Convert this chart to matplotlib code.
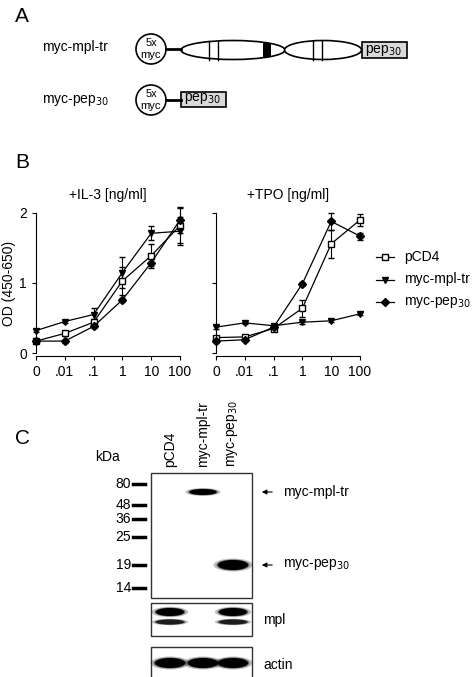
import matplotlib
matplotlib.use("Agg")
import matplotlib.pyplot as plt
from matplotlib.patches import Ellipse, Rectangle, Circle
import numpy as np

doses = ["0", ".01", ".1", "1", "10", "100"]
series = ["pCD4", "myc-mpl-tr", "myc-pep$_{30}$"]
il3_pcd4 = [0.17, 0.28, 0.44, 1.03, 1.39, 1.82]
il3_pcd4_err = [0.02, 0.03, 0.04, 0.2, 0.17, 0.25]
il3_mpl = [0.32, 0.45, 0.55, 1.15, 1.71, 1.74]
il3_mpl_err = [0.02, 0.02, 0.1, 0.22, 0.1, 0.2]
il3_pep = [0.17, 0.17, 0.38, 0.76, 1.29, 1.90]
il3_pep_err = [0.02, 0.02, 0.02, 0.03, 0.05, 0.18]
tpo_pcd4 = [0.22, 0.23, 0.35, 0.64, 1.56, 1.90]
tpo_pcd4_err = [0.03, 0.03, 0.02, 0.12, 0.2, 0.08]
tpo_mpl = [0.37, 0.43, 0.39, 0.44, 0.46, 0.56]
tpo_mpl_err = [0.02, 0.02, 0.02, 0.02, 0.02, 0.02]
tpo_pep = [0.17, 0.19, 0.37, 0.99, 1.88, 1.67]
tpo_pep_err = [0.02, 0.02, 0.02, 0.03, 0.12, 0.05]
markers_kda = ["80", "48", "36", "25", "19", "14"]
lanes = ["pCD4", "myc-mpl-tr", "myc-pep$_{30}$"]

W, H = 472, 677
fig = plt.figure(figsize=(W/100, H/100), dpi=100)
plt.rcParams['font.family'] = ['Liberation Sans', 'DejaVu Sans']
cv = fig.add_axes([0, 0, 1, 1])
cv.set_xlim(0, W); cv.set_ylim(H, 0); cv.axis('off')

fs = 10
cv.text(15, 16, "A", fontsize=15, va='center')
cv.text(15, 163, "B", fontsize=15, va='center')
cv.text(15, 438, "C", fontsize=15, va='center')

def myc(cx, cy):
    cv.add_patch(Circle((cx, cy), 15, fc='white', ec='black', lw=1.2))
    cv.text(cx, cy - 1, "5x", fontsize=8, ha='center', va='bottom', linespacing=0.8)
    cv.text(cx, cy + 1, "myc", fontsize=8, ha='center', va='top')

cv.text(42, 47, "myc-mpl-tr", fontsize=fs, va='center')
myc(151, 49)
cv.plot([166, 181], [49, 49], color='black', lw=2)
e1 = Ellipse((233, 50), 104, 19, fc='white', ec='black', lw=1.2)
cv.add_patch(e1)
for xx in (209, 218):
    cv.plot([xx, xx], [40.5, 59.5], color='black', lw=1)
r = Rectangle((263, 38), 8, 24, fc='black', ec='none')
cv.add_patch(r); r.set_clip_path(e1)
e2 = Ellipse((323, 50), 77, 19, fc='white', ec='black', lw=1.2)
cv.add_patch(e2)
for xx in (313, 322):
    cv.plot([xx, xx], [40.5, 59.5], color='black', lw=1)
cv.add_patch(Rectangle((362, 42), 45, 16, fc='#d9d9d9', ec='black', lw=1.2))
cv.text(365, 50, "pep$_{30}$", fontsize=fs, va='center')

cv.text(42, 100, "myc-pep$_{30}$", fontsize=fs, va='center')
myc(151, 100)
cv.plot([166, 181], [100, 100], color='black', lw=2)
cv.add_patch(Rectangle((181, 92), 45, 15, fc='#d9d9d9', ec='black', lw=1.2))
cv.text(184, 99, "pep$_{30}$", fontsize=fs, va='center')

x = np.arange(len(doses))
styles = [dict(marker='s', mfc='white', mec='black', ms=5),
          dict(marker='v', mfc='black', mec='black', ms=5),
          dict(marker='D', mfc='black', mec='black', ms=4.5)]

def panel(left, title, data, ylabel):
    ax = fig.add_axes([left/W, 1 - 353/H, 144/W, 140/H])
    for (v, e), st in zip(data, styles):
        ax.errorbar(x, v, yerr=e, color='black', lw=0.9, elinewidth=0.8,
                    capsize=2, clip_on=False, **st)
    ax.set_xlim(0, 5); ax.set_ylim(0, 2)
    ax.set_xticks(x); ax.set_xticklabels(doses, fontsize=fs)
    ax.set_yticks([0, 1, 2])
    ax.set_yticklabels(["0", "1", "2"] if ylabel else [], fontsize=fs)
    for s in ('top', 'right'):
        ax.spines[s].set_visible(False)
    ax.spines['bottom'].set_position(('outward', 2))
    ax.tick_params(length=3, width=0.8)
    ax.set_title(title, fontsize=fs, pad=10)
    if ylabel:
        ax.set_ylabel("OD (450-650)", fontsize=fs, labelpad=2)
    ax.patch.set_alpha(0)
    return ax

panel(36, "+IL-3 [ng/ml]", [(il3_pcd4, il3_pcd4_err), (il3_mpl, il3_mpl_err), (il3_pep, il3_pep_err)], True)
panel(216, "+TPO [ng/ml]", [(tpo_pcd4, tpo_pcd4_err), (tpo_mpl, tpo_mpl_err), (tpo_pep, tpo_pep_err)], False)

for i, (name, st) in enumerate(zip(series, styles)):
    yy = 257 + i * 22.5
    cv.plot([376, 394], [yy, yy], color='black', lw=0.9)
    cv.plot([385], [yy], color='black', **st)
    cv.text(404, yy, name, fontsize=fs, va='center')

lane_x = [170, 203, 233]
for lx, name in zip(lane_x, lanes):
    cv.text(lx, 467, name, fontsize=fs, rotation=90, ha='center', va='bottom')
cv.text(108, 457, "kDa", fontsize=fs, ha='center', va='center')
mk_y = [484, 505, 519, 537, 565, 588]
for lab, yy in zip(markers_kda, mk_y):
    cv.text(131, yy, lab, fontsize=fs, ha='right', va='center')
    cv.plot([133, 145], [yy, yy], color='black', lw=2.5)
cv.add_patch(Rectangle((151, 473), 101, 125, fc='white', ec='#333333', lw=1))
cv.add_patch(Rectangle((151, 603), 101, 33, fc='white', ec='#333333', lw=1))
cv.add_patch(Rectangle((151, 647), 101, 40, fc='white', ec='#333333', lw=1))

def band(cx, cy, w, h, dark=1.0):
    for k, a in zip([1.3, 1.1, 1.0], [0.25, 0.5, dark]):
        cv.add_patch(Ellipse((cx, cy), w*k, h*k, fc='black', ec='none', alpha=a))

band(203, 492, 27, 6)
band(233, 565, 30, 10)
for lx in (170, 233):
    band(lx, 612, 28, 8)
    band(lx, 622, 28, 5, 0.7)
for lx in lane_x:
    band(lx, 663, 30, 10)

for yy, name in [(492, "myc-mpl-tr"), (565, "myc-pep$_{30}$")]:
    cv.annotate("", xy=(259, yy), xytext=(275, yy),
                arrowprops=dict(arrowstyle='-|>', color='black', lw=0.8, mutation_scale=7))
    cv.text(283, yy, name, fontsize=fs, va='center')
cv.text(263, 620, "mpl", fontsize=fs, va='center')
cv.text(263, 665, "actin", fontsize=fs, va='center')

fig.savefig("out.png", dpi=100)
